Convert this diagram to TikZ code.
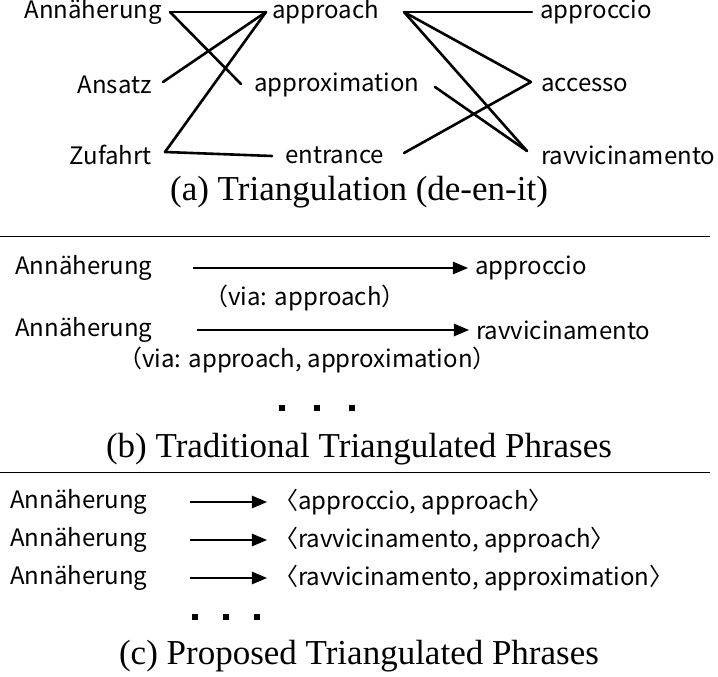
\documentclass[tikz,border=0pt]{standalone}
\usepackage{fontspec}
\setmainfont{Liberation Serif}
\newfontfamily\jpfont{Noto Sans CJK JP}
\usetikzlibrary{arrows}

\tikzset{
	word/.style={font=\jpfont\fontsize{24}{28}\selectfont, inner sep=0pt},
	caption/.style={font=\fontsize{35}{40}\selectfont, inner sep=0pt},
	link/.style={line width=2.6pt, line cap=round},
	trans/.style={line width=2.6pt, ->, >=triangle 45, shorten >=7pt}
}

\begin{document}
\begin{tikzpicture}[x=1pt,y=-1pt]
	\useasboundingbox (0,0) rectangle (718,677);

	% (a) triangulation
	\node[word,anchor=east] (de1) at (162,12) {Annäherung};
	\node[word,anchor=east] (de2) at (152,85) {Ansatz};
	\node[word,anchor=east] (de3) at (152,155) {Zufahrt};
	\node[word,anchor=west] (en1) at (272,12) {approach};
	\node[word,anchor=west] (en2) at (254,85) {approximation};
	\node[word,anchor=west] (en3) at (285,155) {entrance};
	\node[word,anchor=west] (it1) at (540,12) {approccio};
	\node[word,anchor=west] (it2) at (541,85) {accesso};
	\node[word,anchor=west] (it3) at (541,155) {ravvicinamento};

	\coordinate (de1e) at (170,12);
	\coordinate (de2e) at (163,82);
	\coordinate (de3e) at (165,152);
	\coordinate (en1w) at (266,12);
	\coordinate (en1e) at (404,12);
	\coordinate (en2w) at (241,84);
	\coordinate (en2e) at (435,87);
	\coordinate (en3w) at (272,156);
	\coordinate (en3e) at (404,153);
	\coordinate (it1w) at (532,12);
	\coordinate (it2w) at (531,82);
	\coordinate (it3w) at (527,151);

	\draw[link] (de1e) -- (en1w);
	\draw[link] (de1e) -- (en2w);
	\draw[link] (de2e) -- (en1w);
	\draw[link] (de3e) -- (en1w);
	\draw[link] (de3e) -- (en3w);
	\draw[link] (en1e) -- (it1w);
	\draw[link] (en1e) -- (it2w);
	\draw[link] (en1e) -- (it3w);
	\draw[link] (en2e) -- (it3w);
	\draw[link] (en3e) -- (it2w);

	\node[caption] (capa) at (359,192) {(a) Triangulation (de-en-it)};
	\draw[thin] (0,236) -- (710,236);

	% (b) traditional
	\node[word,anchor=west] (b1) at (15,268) {Annäherung};
	\node[word,anchor=west] (b1t) at (475,268) {approccio};
	\node[word] (b1v) at (305,298) {（via: approach）};
	\coordinate (b1s) at (193,268);
	\draw[trans] (b1s) -- (b1t.west);
	\node[word,anchor=west] (b2) at (15,330) {Annäherung};
	\node[word,anchor=west] (b2t) at (476,330) {ravvicinamento};
	\node[word,anchor=west] (b2v) at (118,360) {（via: approach, approximation）};
	\coordinate (b2s) at (197,330);
	\draw[trans] (b2s) -- (b2t.west);
	\foreach \x in {282,317,352}
		\fill (\x-3,405) rectangle (\x+3,411);

	\node[caption] (capb) at (359,449) {(b) Traditional Triangulated Phrases};
	\draw[thin] (0,472) -- (710,472);

	% (c) proposed
	\foreach \y/\t in {502/{〈approccio, approach〉},540/{〈ravvicinamento, approach〉},578/{〈ravvicinamento, approximation〉}}{
		\node[word,anchor=west] (c\y) at (10,\y) {Annäherung};
		\node[word,anchor=west] (ct\y) at (274,\y) {\t};
		\coordinate (cs\y) at (190,\y);
		\draw[trans] (cs\y) -- (ct\y.west);
	}
	\foreach \x in {195,226,257}
		\fill (\x-3,614) rectangle (\x+3,620);

	\node[caption] (capc) at (359,656) {(c) Proposed Triangulated Phrases};
\end{tikzpicture}
\end{document}
